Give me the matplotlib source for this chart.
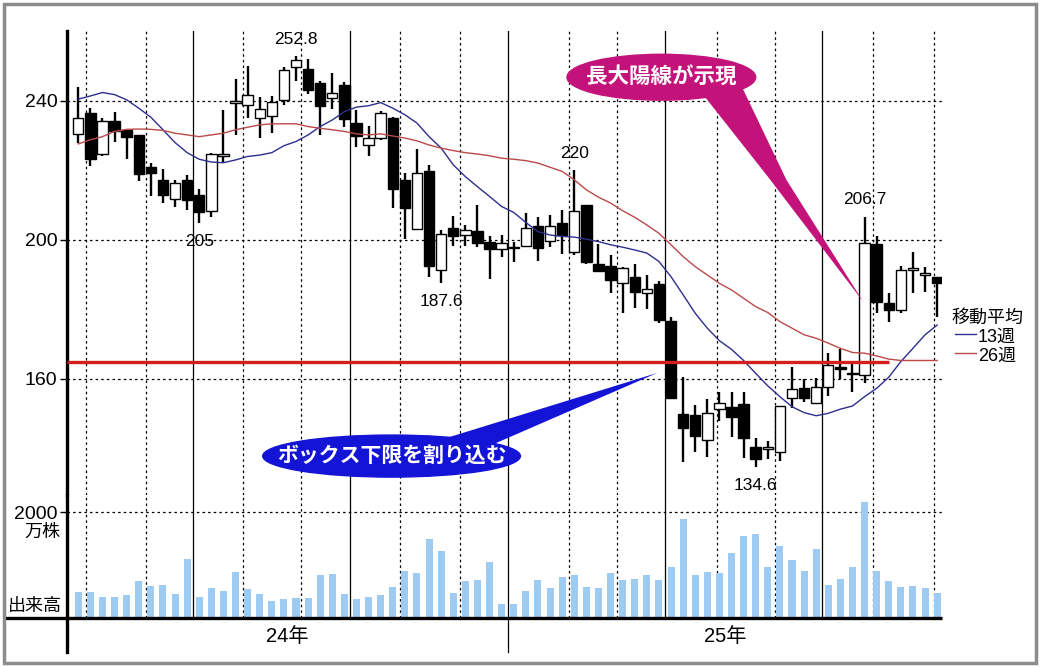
import matplotlib
matplotlib.use("Agg")
import matplotlib.pyplot as plt
import numpy as np
from matplotlib.patches import Ellipse, Polygon, Rectangle
from matplotlib.lines import Line2D

plt.rcParams["font.family"] = ["Liberation Sans", "Noto Sans CJK JP", "DejaVu Sans"]

# weekly candles (price)
opens = [230.5, 236.6, 224.7, 234.3, 231.7, 230.2, 221.1, 217.1, 211.8, 217.3,
         212.9, 208.4, 224.2, 239.5, 238.8, 235.0, 235.7, 240.3, 249.6, 249.1,
         245.1, 240.8, 244.6, 233.6, 227.3, 229.3, 235.0, 217.3, 203.2, 219.7,
         191.4, 203.4, 201.4, 202.6, 199.5, 197.4, 197.6, 198.3, 204.0, 199.8,
         204.8, 196.6, 209.9, 193.0, 192.5, 187.5, 189.4, 184.8, 187.3, 176.8,
         149.9, 149.6, 142.4, 151.3, 151.9, 152.8, 140.3, 139.8, 139.1, 154.4,
         157.3, 153.2, 157.8, 163.3, 161.8, 161.2, 198.8, 181.8, 179.9, 191.4,
         190.0, 189.4]
highs = [244.1, 237.9, 235.0, 236.9, 231.7, 230.2, 222.1, 220.3, 217.3, 218.7,
         214.6, 225.0, 237.4, 246.2, 250.1, 241.1, 241.3, 249.7, 252.8, 252.0,
         245.6, 248.1, 245.3, 237.4, 232.8, 237.1, 235.5, 219.2, 226.1, 221.6,
         202.9, 206.9, 204.3, 210.1, 201.2, 201.4, 199.5, 207.7, 206.7, 207.2,
         208.6, 220.0, 210.1, 198.8, 195.7, 192.3, 193.1, 189.9, 188.3, 177.9,
         160.5, 152.5, 154.2, 156.1, 156.3, 156.3, 142.9, 142.0, 152.2, 163.5,
         159.9, 160.2, 167.4, 168.6, 164.7, 206.7, 201.2, 184.8, 192.5, 196.6,
         192.1, 189.4]
lows = [227.8, 221.3, 224.2, 228.3, 223.2, 216.8, 212.5, 210.5, 209.6, 208.6,
        205.0, 206.7, 222.1, 230.2, 235.0, 229.3, 230.7, 238.8, 245.6, 242.0,
        230.2, 237.7, 232.6, 226.7, 224.2, 228.8, 209.1, 200.2, 202.9, 189.4,
        187.6, 198.3, 198.1, 197.9, 188.7, 195.2, 193.5, 197.9, 194.0, 197.9,
        196.0, 195.7, 193.1, 190.9, 184.7, 179.1, 180.3, 180.1, 176.0, 154.4,
        136.2, 139.1, 137.6, 148.0, 143.4, 137.2, 134.6, 136.9, 136.5, 151.6,
        153.5, 153.0, 155.1, 159.9, 156.1, 158.8, 178.9, 176.5, 179.1, 184.8,
        185.1, 177.9]
closes = [235.0, 223.2, 234.3, 231.2, 229.7, 219.0, 219.2, 212.8, 216.3, 211.5,
          207.9, 224.7, 224.7, 240.0, 241.7, 237.6, 239.8, 248.9, 251.8, 243.0,
          238.6, 242.2, 234.7, 229.9, 229.3, 236.5, 214.6, 209.1, 219.2, 192.5,
          201.7, 201.0, 202.9, 199.0, 197.3, 199.1, 197.6, 203.4, 197.6, 204.0,
          201.4, 208.3, 193.5, 191.1, 188.5, 191.9, 185.1, 185.8, 177.0, 154.4,
          145.8, 143.6, 150.3, 153.2, 149.0, 142.9, 136.9, 140.5, 152.2, 157.0,
          154.4, 157.6, 164.0, 162.9, 161.4, 199.0, 182.2, 179.9, 191.4, 191.8,
          190.0, 187.7]

# moving averages (13 / 26 weeks)
ma13 = [240.5, 241.4, 242.4, 241.8, 240.3, 237.9, 235.3, 231.7, 228.0, 225.1,
        223.2, 222.4, 222.2, 223.0, 224.0, 224.4, 225.1, 227.1, 228.3, 230.2,
        232.6, 234.5, 236.9, 238.2, 238.6, 239.5, 237.9, 236.0, 233.6, 229.7,
        226.4, 221.6, 218.2, 215.3, 212.5, 209.6, 207.9, 205.0, 202.4, 201.4,
        201.0, 200.8, 200.2, 199.5, 198.6, 197.9, 197.1, 196.2, 193.8, 189.4,
        184.2, 178.9, 174.6, 171.0, 168.5, 165.3, 161.6, 158.0, 154.9, 152.0,
        150.3, 149.4, 150.1, 151.3, 152.2, 154.9, 157.3, 160.5, 165.0, 168.8,
        172.7, 175.5]
ma26 = [227.6, 228.8, 229.7, 231.2, 231.8, 231.9, 231.8, 231.5, 230.7, 230.2,
        229.7, 230.2, 230.7, 231.7, 232.4, 233.1, 233.4, 233.4, 233.4, 232.6,
        232.1, 231.7, 231.2, 230.5, 230.2, 230.5, 229.9, 229.3, 228.5, 227.3,
        226.4, 225.7, 225.1, 224.7, 224.2, 223.5, 223.2, 222.8, 222.1, 220.9,
        219.7, 217.3, 214.4, 212.3, 210.6, 208.4, 206.5, 204.3, 201.9, 198.6,
        195.2, 192.3, 189.9, 187.5, 185.6, 183.2, 180.8, 179.1, 176.5, 174.6,
        172.7, 171.7, 170.3, 168.8, 167.6, 167.4, 166.6, 165.7, 165.3, 165.3,
        165.3, 165.3]

# volume (万株)
volume = [494, 494, 386, 399, 424, 703, 595, 614, 456, 1108, 386, 563, 513, 873,
          544, 456, 316, 354, 367, 367, 804, 823, 456, 354, 399, 424, 582, 892,
          842, 1487, 1259, 475, 703, 715, 1051, 266, 266, 513, 715, 557, 772,
          804, 582, 563, 842, 715, 734, 816, 715, 962, 1880, 816, 873, 842,
          1228, 1551, 1589, 962, 1361, 1101, 880, 1310, 614, 741, 962, 2196,
          880, 703, 582, 595, 563, 475]

price_ticks = [160, 200, 240]
vol_ticks = [2000]
month_lines = [0.6, 5.6, 13.6, 18.45, 26.6, 31.55, 40.6, 44.55, 52.8, 57.6, 65.7, 70.7]
quarter_lines = [9.5, 22.5, 35.5, 48.5, 61.5]
year_start = 35.5
years = ["24年", "25年"]
box_low = 165.0
box_end = 67
# (candle index, price, text, above?)
price_notes = [(18, 252.8, "252.8", True), (10, 205.0, "205", False),
               (30, 187.6, "187.6", False), (41, 220.0, "220", True),
               (56, 134.6, "134.6", False), (65, 206.7, "206.7", True)]

W, H = 1040, 667
fig = plt.figure(figsize=(W / 100, H / 100), dpi=100)
x0, x1 = 67, 942
ax = fig.add_axes([x0 / W, 1 - 495 / H, (x1 - x0) / W, 464 / H])
axv = fig.add_axes([x0 / W, 1 - 617.5 / H, (x1 - x0) / W, 122.5 / H])

xmin, xmax = -0.93, 71.4
idx = np.arange(len(closes))

for a in (ax, axv):
    a.set_xlim(xmin, xmax)
    a.set_xticks([])
    for s in ("top", "right", "bottom"):
        a.spines[s].set_visible(False)
    a.spines["left"].set_linewidth(2.4)
    a.tick_params(axis="y", length=5, width=1, pad=2, labelsize=14)
    for m in month_lines:
        a.axvline(m, color="black", lw=0.9, ls=(0, (2, 2.5)), zorder=1)
    for q in quarter_lines:
        a.axvline(q, color="black", lw=0.9, zorder=1)

ax.set_ylim(126.6, 260.1)
ax.set_yticks(price_ticks)
for t in price_ticks:
    ax.axhline(t, color="black", lw=0.9, ls=(0, (2, 2.5)), zorder=1)

axv.set_ylim(0, 2333)
axv.set_yticks(vol_ticks)
axv.set_yticklabels([str(v) for v in vol_ticks])
for t in vol_ticks:
    axv.axhline(t, color="black", lw=0.9, ls=(0, (2, 2.5)), zorder=1)

# volume bars
axv.bar(idx, volume, width=0.58, color="#9ecbf2", zorder=2)

# candles
ax.vlines(idx, lows, highs, color="black", lw=1.7, zorder=3)
o = np.array(opens)
c = np.array(closes)
bottom = np.minimum(o, c)
height = np.maximum(np.abs(c - o), 0.4)
face = ["white" if cc >= oo else "black" for oo, cc in zip(o, c)]
ax.bar(idx, height, bottom=bottom, width=0.86, color=face, edgecolor="black",
       linewidth=1.0, zorder=4)

# moving averages and box floor
ax.plot(idx, ma13, color="#2e2e8e", lw=1.0, zorder=5)
ax.plot(idx, ma26, color="#b94a48", lw=1.0, zorder=5)
ax.plot([xmin, box_end], [box_low, box_low], color="#d41f1f", lw=2.4, zorder=6,
        solid_capstyle="butt")

# high / low labels
for i, v, s, up in price_notes:
    y = highs[i] if up else lows[i]
    ax.annotate(s, (i, y), xytext=(0, 12 if up else -13.5), textcoords="offset points",
                ha="center", va="center", fontsize=12.5, zorder=7,
                annotation_clip=False)

# axis extensions below the volume panel
axv.plot([xmin, xmin], [0, -660], color="black", lw=2.4, clip_on=False, zorder=6)
axv.plot([year_start, year_start], [0, -660], color="black", lw=0.9, clip_on=False)
axv.plot([-6.06, xmax], [0, 0], color="black", lw=2.4, clip_on=False, zorder=6,
         solid_capstyle="butt")

spans = [(xmin, year_start), (year_start, xmax)]
for (a0, a1), lab in zip(spans, years):
    axv.annotate(lab, ((a0 + a1) / 2, 0), xytext=(0, -14), textcoords="offset points",
                 ha="center", va="center", fontsize=14.5, annotation_clip=False)

fig.text(60 / W, 1 - 532 / H, "万株", ha="right", va="center", fontsize=13)
fig.text(62 / W, 1 - 606 / H, "出来高", ha="right", va="center", fontsize=13)

# legend
fig.text(987 / W, 1 - 318 / H, "移動平均", ha="center", va="center", fontsize=13)
for yy, col, lab in [(337, "#2e2e8e", "13週"), (356, "#b94a48", "26週")]:
    fig.add_artist(Line2D([955 / W, 976 / W], [1 - (yy - 3) / H] * 2, color=col, lw=1.0))
    fig.text(978 / W, 1 - yy / H, lab, ha="left", va="center", fontsize=13)

# callouts
pink = "#c3137b"
blue = "#1414d6"
ax.add_patch(Polygon([(51.67, 241.73), (57.21, 217.27), (64.9, 182.16),
                      (58.54, 217.27), (54.9, 243.74)], closed=True,
                     color=pink, lw=0, zorder=8, clip_on=False))
ax.add_patch(Ellipse((48.2, 246.8), 15.6, 13.2, color=pink, zorder=8, clip_on=False))
ax.text(48.2, 246.8, "長大陽線が示現", color="white", fontsize=15.5,
        fontweight="bold", ha="center", va="center", zorder=9)

ax.add_patch(Polygon([(29.92, 142.45), (47.87, 161.73), (33.23, 139.57)],
                     closed=True, color=blue, lw=0, zorder=8))
ax.add_patch(Ellipse((25.9, 137.8), 21.3, 12.1, color=blue, zorder=8))
ax.text(25.9, 137.8, "ボックス下限を割り込む", color="white", fontsize=15,
        fontweight="bold", ha="center", va="center", zorder=9)

# outer frame
fig.add_artist(Rectangle((4 / W, 4 / H), 1 - 8 / W, 1 - 8 / H, transform=fig.transFigure,
                         fill=False, lw=2.5, ec="#8c8c8c"))

fig.savefig("out.png", dpi=100)
